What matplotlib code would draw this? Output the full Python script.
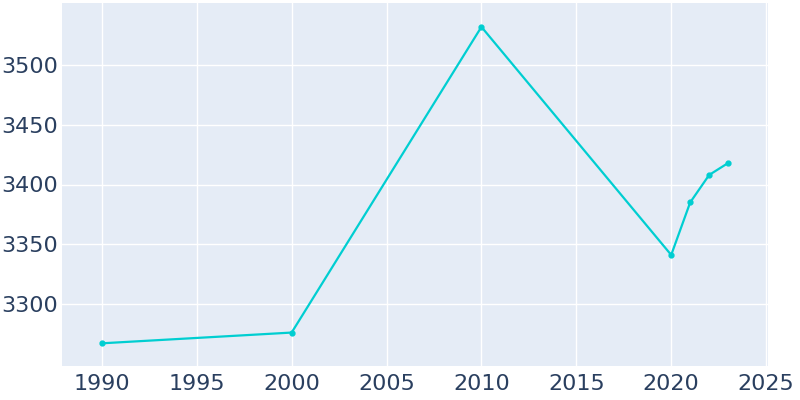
import matplotlib
matplotlib.use("Agg")
import matplotlib.pyplot as plt

years = [1990, 2000, 2010, 2020, 2021, 2022, 2023]
population = [3267, 3276, 3532, 3341, 3385, 3408, 3418]

x_ticks = [1990, 1995, 2000, 2005, 2010, 2015, 2020, 2025]
y_ticks = [3300, 3350, 3400, 3450, 3500]

fig = plt.figure(figsize=(8, 4), dpi=100)
ax = fig.add_axes([0.0775, 0.085, 0.8825, 0.9075])
ax.set_facecolor("#E5ECF6")

ax.plot(years, population, color="#00CED1", linewidth=1.6,
        marker="o", markersize=3.5, zorder=3)

ax.set_xlim(1987.9, 2025.1)
ax.set_ylim(3248, 3552)
ax.set_xticks(x_ticks)
ax.set_yticks(y_ticks)
ax.grid(True, color="white", linewidth=1)
ax.set_axisbelow(True)
for s in ax.spines.values():
    s.set_visible(False)
ax.tick_params(length=0, labelsize=16, labelcolor="#2a3f5f")
ax.tick_params(axis="y", pad=3)
ax.tick_params(axis="x", pad=6)

fig.savefig("out.png", dpi=100)
